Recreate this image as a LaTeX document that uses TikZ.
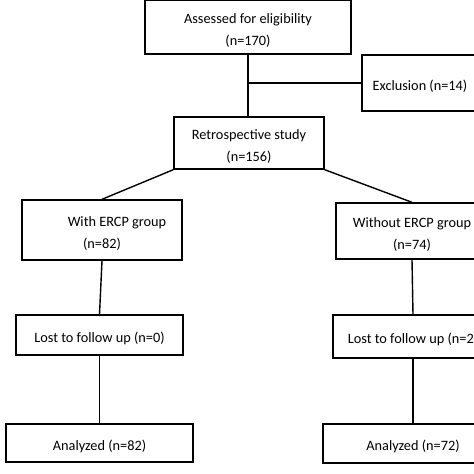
\documentclass[tikz,border=0pt]{standalone}
\usepackage{fontspec}
\setmainfont{Carlito}
\usetikzlibrary{positioning}
\tikzset{
  flowbox/.style={
    draw=black,
    line width=1.4pt,
    align=center,
    inner sep=2pt,
    font=\fontsize{14.3}{22}\selectfont
  },
  onebox/.style={
    flowbox,
    text height=16.5pt
  },
  twobox/.style={
    flowbox,
    text height=38.5pt
  },
  linkline/.style={
    line width=1.4pt
  }
}

\begin{document}
\begin{tikzpicture}[x=1pt,y=-1pt]
  \useasboundingbox (0,0) rectangle (474,474);
  \clip (0,0) rectangle (474,474);
  \fill[white] (0,0) rectangle (474,474);

  \node[twobox, minimum width=206pt, minimum height=54pt] (assess) at (248,27) {Assessed for eligibility\\(n=170)};
  \node[onebox, minimum width=116pt, minimum height=56pt] (excl) at (420,83) {Exclusion (n=14)};
  \node[twobox, minimum width=150pt, minimum height=52pt] (retro) at (249,143) {Retrospective study\\(n=156)};
  \node[twobox, minimum width=160pt, minimum height=60pt] (withgrp) at (102,230) {\hspace*{30pt}With ERCP group\\(n=82)};
  \node[twobox, minimum width=152pt, minimum height=56pt] (withoutgrp) at (412,231) {Without ERCP group\\(n=74)};
  \node[onebox, minimum width=167pt, minimum height=40pt] (lostA) at (99.5,335) {Lost to follow up (n=0)};
  \node[onebox, minimum width=160pt, minimum height=43pt] (lostB) at (413,336.5) {Lost to follow up (n=2)};
  \node[onebox, minimum width=187pt, minimum height=38pt] (anaA) at (99.5,443) {Analyzed (n=82)};
  \node[onebox, minimum width=180pt, minimum height=39pt] (anaB) at (413,443.5) {Analyzed (n=72)};

  \draw[linkline] (assess.south) -- (assess.south |- retro.north);
  \draw[linkline] (assess.south |- excl.west) -- (excl.west);
  \draw[linkline] (retro.south west) -- (withgrp.north);
  \draw[linkline] (retro.south east) -- (withoutgrp.north);
  \draw[linkline] (withgrp.south) -- (lostA.north);
  \draw[linkline] (lostA.south) -- (anaA.north);
  \draw[linkline] (withoutgrp.south) -- (lostB.north);
  \draw[linkline] (lostB.south) -- (anaB.north);
\end{tikzpicture}
\end{document}
